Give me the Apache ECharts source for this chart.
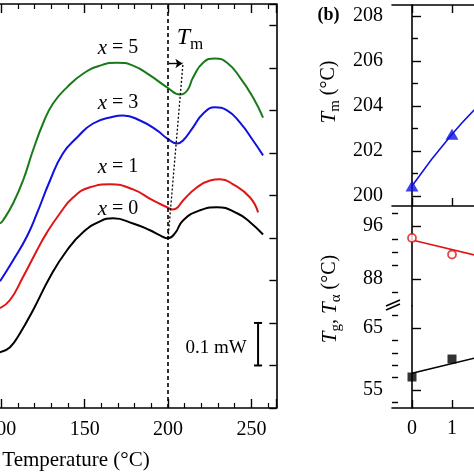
<!DOCTYPE html>
<html>
<head>
<meta charset="utf-8">
<script src="https://cdn.jsdelivr.net/npm/echarts@6/dist/echarts.min.js"></script>
<style>
html, body { margin: 0; padding: 0; background: #fff; }
#main { width: 474px; height: 474px; }
</style>
</head>
<body>
<div id="main"></div>
<script>
//DSC曲线数据 (温度 °C, 热流 mW)
var blackT = [99.2, 105.2, 111.2, 119.0, 129.2, 139.4, 149.0, 159.2, 167.0, 179.0, 189.2, 195.2, 200.0, 204.2, 209.0, 219.2, 229.4, 241.4, 249.2, 257.0];
var blackV = [0.131, 0.143, 0.176, 0.230, 0.308, 0.371, 0.413, 0.439, 0.446, 0.434, 0.418, 0.406, 0.399, 0.411, 0.441, 0.465, 0.472, 0.458, 0.437, 0.408];
var redT = [99.2, 105.2, 113.0, 121.4, 127.4, 135.2, 143.0, 153.2, 165.2, 179.0, 191.0, 199.4, 202.4, 204.8, 209.0, 217.4, 225.2, 231.2, 239.0, 249.2, 254.0];
var redV = [0.235, 0.254, 0.308, 0.371, 0.413, 0.458, 0.495, 0.519, 0.526, 0.514, 0.488, 0.472, 0.467, 0.469, 0.488, 0.519, 0.535, 0.538, 0.526, 0.495, 0.460];
var blueT = [99.2, 107.0, 115.4, 121.4, 129.2, 137.0, 145.4, 155.0, 167.0, 173.0, 183.2, 193.4, 199.4, 205.4, 209.0, 215.0, 221.0, 228.2, 235.4, 243.2, 251.0, 257.0];
var blueV = [0.298, 0.347, 0.404, 0.458, 0.535, 0.599, 0.636, 0.669, 0.685, 0.688, 0.676, 0.653, 0.634, 0.622, 0.629, 0.660, 0.692, 0.707, 0.700, 0.671, 0.629, 0.594];
var greenT = [99.2, 101.0, 107.0, 113.0, 119.0, 125.0, 131.0, 139.4, 149.0, 159.2, 169.4, 179.0, 189.2, 199.4, 207.2, 211.4, 215.0, 221.0, 228.2, 235.4, 243.2, 251.0, 257.0];
var greenV = [0.434, 0.441, 0.481, 0.535, 0.606, 0.669, 0.716, 0.754, 0.786, 0.805, 0.812, 0.805, 0.782, 0.754, 0.737, 0.746, 0.777, 0.812, 0.822, 0.812, 0.777, 0.730, 0.683];

//Tm 移动趋势线, 刻度条
var tmTrendT = [200.0, 209.0];
var tmTrendV = [0.399, 0.812];
var arrowT = [200.5, 208.6];
var arrowV = 0.81;
var scaleBarT = 254;
var scaleBarV = [0.1, 0.2];

//(b) 图数据
var compX = [0, 1];
var tmVals = [200.45, 202.75];
var tmFitX = [0, 1, 2];
var tmFitVals = [200.45, 202.75, 204.6];
var taVals = [94.2, 91.7];
var taFitX = [0, 5];
var taFitVals = [93.9, 86.6];
var tgVals = [57.1, 60.0];
var tgFitX = [0, 5];
var tgFitVals = [57.7, 65.5];

//刻度
var xTicksB = [0, 1, 2, 3, 4, 5];
var tmMajor = [200, 202, 204, 206, 208];
var tmMinor = [201, 203, 205, 207];
var taMajor = [88, 96];
var taMinor = [86, 90, 92, 94, 98];
var tgMajor = [55, 65];
var tgMinor = [53, 57, 59, 61, 63, 67];

var SERIF = '"Liberation Serif", "Times New Roman", serif';

var zip = function(xs, ys) {
	var out = [];
	for(var i = 0; i < xs.length; i++) {
		out.push([xs[i], ys[i]]);
	}
	return out;
};

var axisLineStyle = { lineStyle: { color: '#000', width: 1.6 } };

var dscX = function(pos, showLabel) {
	return {
		type: 'value', gridIndex: 0, position: pos,
		min: 50, max: 265, interval: 50,
		axisLine: axisLineStyle,
		axisTick: { inside: true, length: 9, lineStyle: { color: '#000', width: 1.4 } },
		minorTick: { show: true, splitNumber: 5, length: 5, lineStyle: { color: '#000', width: 1.2 } },
		axisLabel: { show: showLabel, showMaxLabel: false, margin: 12, color: '#000', fontSize: 20, fontFamily: SERIF },
		splitLine: { show: false }
	};
};

var bX = function(grid, pos, showLine, showLabel) {
	return {
		type: 'value', gridIndex: grid, position: pos,
		min: -0.5, max: 5.5,
		axisLine: { show: showLine, lineStyle: { color: '#000', width: 1.6 } },
		axisTick: { show: showLine, inside: true, length: 8, customValues: xTicksB, lineStyle: { color: '#000', width: 1.4 } },
		axisLabel: { show: showLabel, customValues: xTicksB, margin: 11, color: '#000', fontSize: 20, fontFamily: SERIF },
		splitLine: { show: false }
	};
};

var bY = function(grid, min, max, ticks, len, showLine, showLabel) {
	return {
		type: 'value', gridIndex: grid, position: 'left',
		min: min, max: max,
		axisLine: { show: showLine, lineStyle: { color: '#000', width: 1.6 } },
		axisTick: { inside: true, length: len, customValues: ticks, lineStyle: { color: '#000', width: 1.4 } },
		axisLabel: { show: showLabel, customValues: ticks, margin: 9, color: '#000', fontSize: 20, fontFamily: SERIF },
		splitLine: { show: false }
	};
};

var curve = function(t, v, color) {
	return {
		type: 'line', xAxisIndex: 0, yAxisIndex: 0,
		data: zip(t, v), smooth: 0.5, showSymbol: false, silent: true,
		lineStyle: { color: color, width: 2 }
	};
};

var label = function(txt, x, y) {
	return {
		type: 'text', x: x, y: y, silent: true,
		style: {
			text: txt, fill: '#000', fontSize: 20, fontFamily: SERIF,
			align: 'center', verticalAlign: 'middle',
			rich: {
				i: { fontStyle: 'italic', fontSize: 21, fontFamily: SERIF, fill: '#000' },
				s: { fontSize: 15, fontFamily: SERIF, fill: '#000', padding: [12, 0, 0, 0] }
			}
		}
	};
};

var blackSeries = curve(blackT, blackV, '#000');
blackSeries.markLine = {
	silent: true, symbol: 'none', label: { show: false },
	lineStyle: { color: '#000', type: [4, 3], width: 1.6 },
	data: [{ xAxis: 200 }]
};

var option = {
	animation: false,
	backgroundColor: '#fff',
	grid: [
		{ left: -82, top: 4, width: 358.4, height: 404, outerBoundsMode: 'none', containLabel: false },
		{ left: 392, top: 5, width: 240, height: 201, outerBoundsMode: 'none', containLabel: false },
		{ left: 392, top: 206, width: 240, height: 100, outerBoundsMode: 'none', containLabel: false },
		{ left: 392, top: 306, width: 240, height: 102, outerBoundsMode: 'none', containLabel: false }
	],
	xAxis: [
		dscX('bottom', true),
		dscX('top', false),
		bX(1, 'top', true, false),
		bX(1, 'bottom', true, false),
		bX(2, 'bottom', false, false),
		bX(3, 'bottom', true, true)
	],
	yAxis: [
		{
			type: 'value', gridIndex: 0, position: 'right',
			min: 0, max: 0.95, interval: 0.1,
			axisLine: axisLineStyle,
			axisTick: { inside: true, length: 7, lineStyle: { color: '#000', width: 1.4 } },
			axisLabel: { show: false },
			splitLine: { show: false }
		},
		bY(1, 199.56, 208.49, tmMajor, 9, true, true),
		bY(1, 199.56, 208.49, tmMinor, 6, false, false),
		bY(2, 83.92, 99.02, taMajor, 9, true, true),
		bY(2, 83.92, 99.02, taMinor, 6, false, false),
		bY(3, 52.1, 68.55, tgMajor, 9, true, true),
		bY(3, 52.1, 68.55, tgMinor, 6, false, false)
	],
	series: [
		blackSeries,
		curve(redT, redV, '#e01515'),
		curve(blueT, blueV, '#1010e0'),
		curve(greenT, greenV, '#1a7a1a'),
		{
			type: 'line', xAxisIndex: 0, yAxisIndex: 0, silent: true,
			data: zip(tmTrendT, tmTrendV), showSymbol: false,
			lineStyle: { color: '#000', type: [2, 2], width: 1.3 },
			markLine: {
				silent: true, symbol: ['none', 'arrow'], symbolSize: 7,
				label: { show: false },
				lineStyle: { color: '#000', type: 'solid', width: 1.4 },
				data: [[{ coord: [arrowT[0], arrowV] }, { coord: [arrowT[1], arrowV] }]]
			}
		},
		{
			type: 'line', xAxisIndex: 0, yAxisIndex: 0, silent: true,
			data: zip([scaleBarT, scaleBarT], scaleBarV),
			symbol: 'rect', symbolSize: [8, 2], showSymbol: true,
			itemStyle: { color: '#000' },
			lineStyle: { color: '#000', width: 2 }
		},
		//(b) Tm
		{
			type: 'line', xAxisIndex: 2, yAxisIndex: 1, silent: true,
			data: zip(tmFitX, tmFitVals), smooth: true, showSymbol: false,
			lineStyle: { color: '#1010e0', width: 1.6 }
		},
		{
			type: 'scatter', xAxisIndex: 2, yAxisIndex: 1, silent: true,
			data: zip(compX, tmVals), symbol: 'triangle', symbolSize: [13, 11],
			itemStyle: { color: '#1010e0' }, z: 5
		},
		//(b) Tα
		{
			type: 'line', xAxisIndex: 4, yAxisIndex: 3, silent: true,
			data: zip(taFitX, taFitVals), showSymbol: false,
			lineStyle: { color: '#e01515', width: 1.6 }
		},
		{
			type: 'scatter', xAxisIndex: 4, yAxisIndex: 3, silent: true,
			data: zip(compX, taVals), symbol: 'circle', symbolSize: 8,
			itemStyle: { color: '#fff', borderColor: '#e01515', borderWidth: 1.8 }, z: 5
		},
		//(b) Tg
		{
			type: 'line', xAxisIndex: 5, yAxisIndex: 5, silent: true,
			data: zip(tgFitX, tgFitVals), showSymbol: false,
			lineStyle: { color: '#000', width: 1.6 }
		},
		{
			type: 'scatter', xAxisIndex: 5, yAxisIndex: 5, silent: true,
			data: zip(compX, tgVals), symbol: 'rect', symbolSize: 9,
			itemStyle: { color: '#000' }, z: 5
		}
	],
	graphic: [
		label('{i|x} = 5', 118, 48),
		label('{i|x} = 3', 118, 103),
		label('{i|x} = 1', 118, 167),
		label('{i|x} = 0', 118, 209),
		{
			type: 'text', x: 190, y: 38, silent: true,
			style: {
				text: '{i|T}{s|m}', align: 'center', verticalAlign: 'middle',
				rich: {
					i: { fontStyle: 'italic', fontSize: 24, fontFamily: SERIF, fill: '#000' },
					s: { fontSize: 17, fontFamily: SERIF, fill: '#000', padding: [14, 0, 0, 0] }
				}
			}
		},
		{
			type: 'text', x: 216, y: 348, silent: true,
			style: { text: '0.1 mW', fill: '#000', fontSize: 19, fontFamily: SERIF, align: 'center', verticalAlign: 'middle' }
		},
		{
			type: 'text', x: 76, y: 460, silent: true,
			style: { text: 'Temperature (°C)', fill: '#000', fontSize: 21, fontFamily: SERIF, align: 'center', verticalAlign: 'middle' }
		},
		{
			type: 'text', x: 328.5, y: 15, silent: true,
			style: { text: '(b)', fill: '#000', fontSize: 18, fontWeight: 'bold', fontFamily: SERIF, align: 'center', verticalAlign: 'middle' }
		},
		(function() {
			var g = label('{i|T}{s|m} (°C)', 0, 0);
			g.x = 329; g.y = 92; g.rotation = Math.PI / 2;
			return g;
		})(),
		(function() {
			var g = label('{i|T}{s|g}, {i|T}{s|α} (°C)', 0, 0);
			g.x = 330; g.y = 299; g.rotation = Math.PI / 2;
			return g;
		})(),
		//坐标轴断裂标记
		{ type: 'line', silent: true, shape: { x1: 386, y1: 310, x2: 400, y2: 304 }, style: { stroke: '#000', lineWidth: 1.5 } },
		{ type: 'line', silent: true, shape: { x1: 386, y1: 306, x2: 400, y2: 300 }, style: { stroke: '#000', lineWidth: 1.5 } }
	]
};

var chart = echarts.init(document.getElementById('main'));
chart.setOption(option);
</script>
</body>
</html>
